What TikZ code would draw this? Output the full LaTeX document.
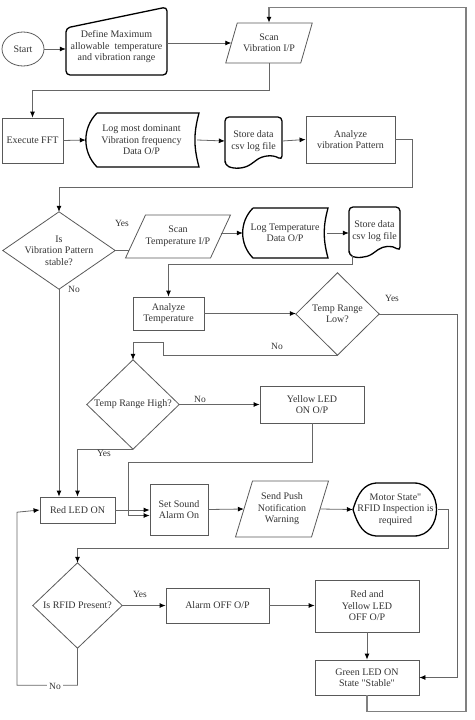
\documentclass[tikz,border=0pt]{standalone}
\usepackage{fontspec}
\setmainfont{Liberation Serif}[Ligatures=TeXOff]
\usetikzlibrary{arrows.meta,shapes.geometric}

\begin{document}
\begin{tikzpicture}[x=1pt,y=-1pt]
\tikzstyle{every node}+=[inner sep=0pt, align=center, text=black!80, font=\fontsize{10}{11.5}\selectfont]
\tikzstyle{proc}=[rectangle, draw=black!65, line width=0.8pt]
\tikzstyle{shapetext}=[rectangle]
\tikzstyle{edge}=[draw=black!60, line width=0.8pt]
\tikzstyle{arr}=[edge, -{Latex[length=6pt,width=5pt,color=black]}]
\tikzstyle{outline}=[draw=black!65, line width=0.8pt]
\tikzstyle{bold}=[draw=black, line width=1.3pt]
\tikzstyle{lbl}=[font=\fontsize{9.5}{11}\selectfont]
\useasboundingbox (0,0) rectangle (474,720);

\node [ellipse, draw=black!65, line width=0.8pt, minimum width=42pt, minimum height=34pt] (start) at (23,49) {Start};
\node [shapetext, minimum width=101pt, minimum height=56pt] (define) at (116.5,47) {Define Maximum\\allowable\ \ temperature\\and vibration range};
\node [shapetext, minimum width=75pt, minimum height=40pt] (scanv) at (269,43) {Scan\\Vibration I/P};
\node [proc, minimum width=61pt, minimum height=45pt] (fft) at (32.5,140.5) {Execute FFT};
\node [shapetext, minimum width=111pt, minimum height=54pt] (logv) at (141.5,140) {Log most dominant\\Vibration frequency\\Data O/P};
\node [shapetext, minimum width=57pt, minimum height=48pt] (storev) at (253.5,141) {Store data\\csv log file};
\node [proc, minimum width=89pt, minimum height=47pt] (avib) at (350.5,139.5) {Analyze\\vibration Pattern};
\node [shapetext, minimum width=112pt, minimum height=77pt] (vib) at (59,250.5) {Is\\Vibration Pattern\\stable?};
\node [shapetext, minimum width=85pt, minimum height=43pt] (scant) at (178,236.5) {Scan\\Temperature I/P};
\node [shapetext, minimum width=84pt, minimum height=50pt] (logt) at (285,233) {Log Temperature\\Data O/P};
\node [shapetext, minimum width=51pt, minimum height=48pt] (storet) at (374.5,231) {Store data\\csv log file};
\node [proc, minimum width=71pt, minimum height=33pt] (atemp) at (168.5,313.5) {Analyze\\Temperature};
\node [shapetext, minimum width=83pt, minimum height=82pt] (low) at (337.5,314) {Temp Range\\Low?};
\node [shapetext, minimum width=92pt, minimum height=89pt] (high) at (133,404.5) {Temp Range High?};
\node [proc, minimum width=104pt, minimum height=37pt] (yellow) at (312,404.5) {Yellow LED\\ON O/P};
\node [proc, minimum width=75pt, minimum height=26pt] (red) at (77.5,510) {Red LED ON};
\node [proc, minimum width=58pt, minimum height=51pt] (alarm) at (179,509.5) {Set Sound\\Alarm On};
\node [shapetext, minimum width=76pt, minimum height=56pt] (push) at (282,509) {Send Push\\Notification\\Warning};
\node [shapetext, minimum width=85pt, minimum height=53pt] (disp) at (395.5,509.5) {Motor State"\\RFID Inspection is\\required};
\node [shapetext, minimum width=89pt, minimum height=85pt] (rfid) at (77.5,605.5) {Is RFID Present?};
\node [proc, minimum width=103pt, minimum height=35pt] (aoff) at (217.5,605.5) {Alarm OFF O/P};
\node [proc, minimum width=104pt, minimum height=52pt] (rgoff) at (367,606) {Red and\\Yellow LED\\OFF O/P};
\node [proc, minimum width=104pt, minimum height=35pt] (green) at (367,677.5) {Green LED ON\\State "Stable"};

\draw [bold, rounded corners=4] (66,75) -- (66,28) -- (167,7) -- (167,75) -- cycle;
\draw [outline] (237.25,23) -- (312.25,23) -- (300.75,63) -- (225.75,63) -- cycle;
\draw [bold] (97,113) -- (199,113) to[bend right=15] (199,167) -- (97,167) to[bend left=45] (97,113);
\draw [bold, rounded corners=4] (225,165) -- (225,117) -- (282,117) -- (282,160) .. controls (272,154) and (262,156) .. (254,162) .. controls (244,169) and (234,169) .. (225,165) -- cycle;
\draw [outline] (vib.north) -- (vib.east) -- (vib.south) -- (vib.west) -- cycle;
\draw [outline] (145.5,215) -- (230.5,215) -- (210.5,258) -- (125.5,258) -- cycle;
\draw [bold] (253,208) -- (328,208) to[bend right=15] (328,258) -- (253,258) to[bend left=45] (253,208);
\draw [bold, rounded corners=4] (349,255) -- (349,207) -- (400,207) -- (400,251) .. controls (392,245) and (383,246) .. (375,252) .. controls (366,258) and (356,258) .. (349,255) -- cycle;
\draw [outline] (low.north) -- (low.east) -- (low.south) -- (low.west) -- cycle;
\draw [outline] (high.north) -- (high.east) -- (high.south) -- (high.west) -- cycle;
\draw [outline] (252.5,481) -- (328.5,481) -- (311.5,537) -- (235.5,537) -- cycle;
\draw [bold] (353,509.5) .. controls (358,493) and (364,484) .. (376,483) -- (414,483) .. controls (444,483) and (444,536) .. (414,536) -- (376,536) .. controls (364,535) and (358,526) .. (353,509.5) -- cycle;
\draw [outline] (rfid.north) -- (rfid.east) -- (rfid.south) -- (rfid.west) -- cycle;

\draw [arr] (start.east) -- (start.east -| define.west);
\draw [arr] (define.east |- scanv.west) -- (scanv.west);
\draw [arr] (scanv.south) -- ++(0,27) -| (fft.north);
\draw [arr] (fft.east) -- (logv.west);
\draw [arr] (logv.east) -- (storev.west);
\draw [arr] (storev.east) -- (avib.west);
\draw [arr] (avib.east) -- ++(17,0) -- ++(0,47.5) -| (vib.north);
\draw [edge, shorten >=6.5pt] (vib.east) -- (vib.east -| scant.west);
\draw [arr] (scant.east |- logt.west) -- (logt.west);
\draw [arr] (logt.east) -- (logt.east -| storet.west);
\draw [arr] ([xshift=4pt]storet.south west) -- ++(0,9) -| (atemp.north);
\draw [arr] (atemp.east) -- (atemp.east -| low.west);
\draw [arr] (low.east) -- ++(78,0) |- (green.east);
\draw [arr] (low.south) -- ++(-174.5,0) -- ++(0,-13) -| (high.north);
\draw [arr] (high.east) -- (yellow.west);
\draw [arr] (high.south) -| (red.north);
\draw [arr] (vib.south) -- (vib.south |- red.north);
\draw [arr] (yellow.south) -- ++(0,39) -- ++(-184,0) |- ([yshift=-6pt]alarm.west);
\draw [arr] (red.east) -- (red.east -| alarm.west);
\draw [arr] (alarm.east) -- (push.west);
\draw [arr] (push.east) -- (disp.west);
\draw [arr] (disp.east) -- ++(10,0) -- ++(0,38.5) -| (rfid.north);
\draw [arr] (rfid.east) -- (aoff.west);
\draw [arr] (aoff.east) -- (aoff.east -| rgoff.west);
\draw [arr] (rgoff.south) -- (green.north);
\draw [arr] (rfid.south) -- ++(0,37) -| ++(-60.5,-173) -- (red.west);
\draw [arr, draw=black!50, line width=1.5pt] (green.south) -- ++(0,16) -- ++(99,0) -- ++(0,-704) -| (scanv.north);

\node [lbl] (yes1) at (122,223) {Yes};
\node [lbl] (no1) at (74,289) {No};
\node [lbl] (yes2) at (392,298) {Yes};
\node [lbl] (no2) at (277,346) {No};
\node [lbl] (no3) at (200,399) {No};
\node [lbl] (yes3) at (104,453) {Yes};
\node [lbl] (yes4) at (140,594) {Yes};
\node [lbl, fill=white, inner xsep=2pt] (no4) at (55,686) {No};
\end{tikzpicture}
\end{document}
